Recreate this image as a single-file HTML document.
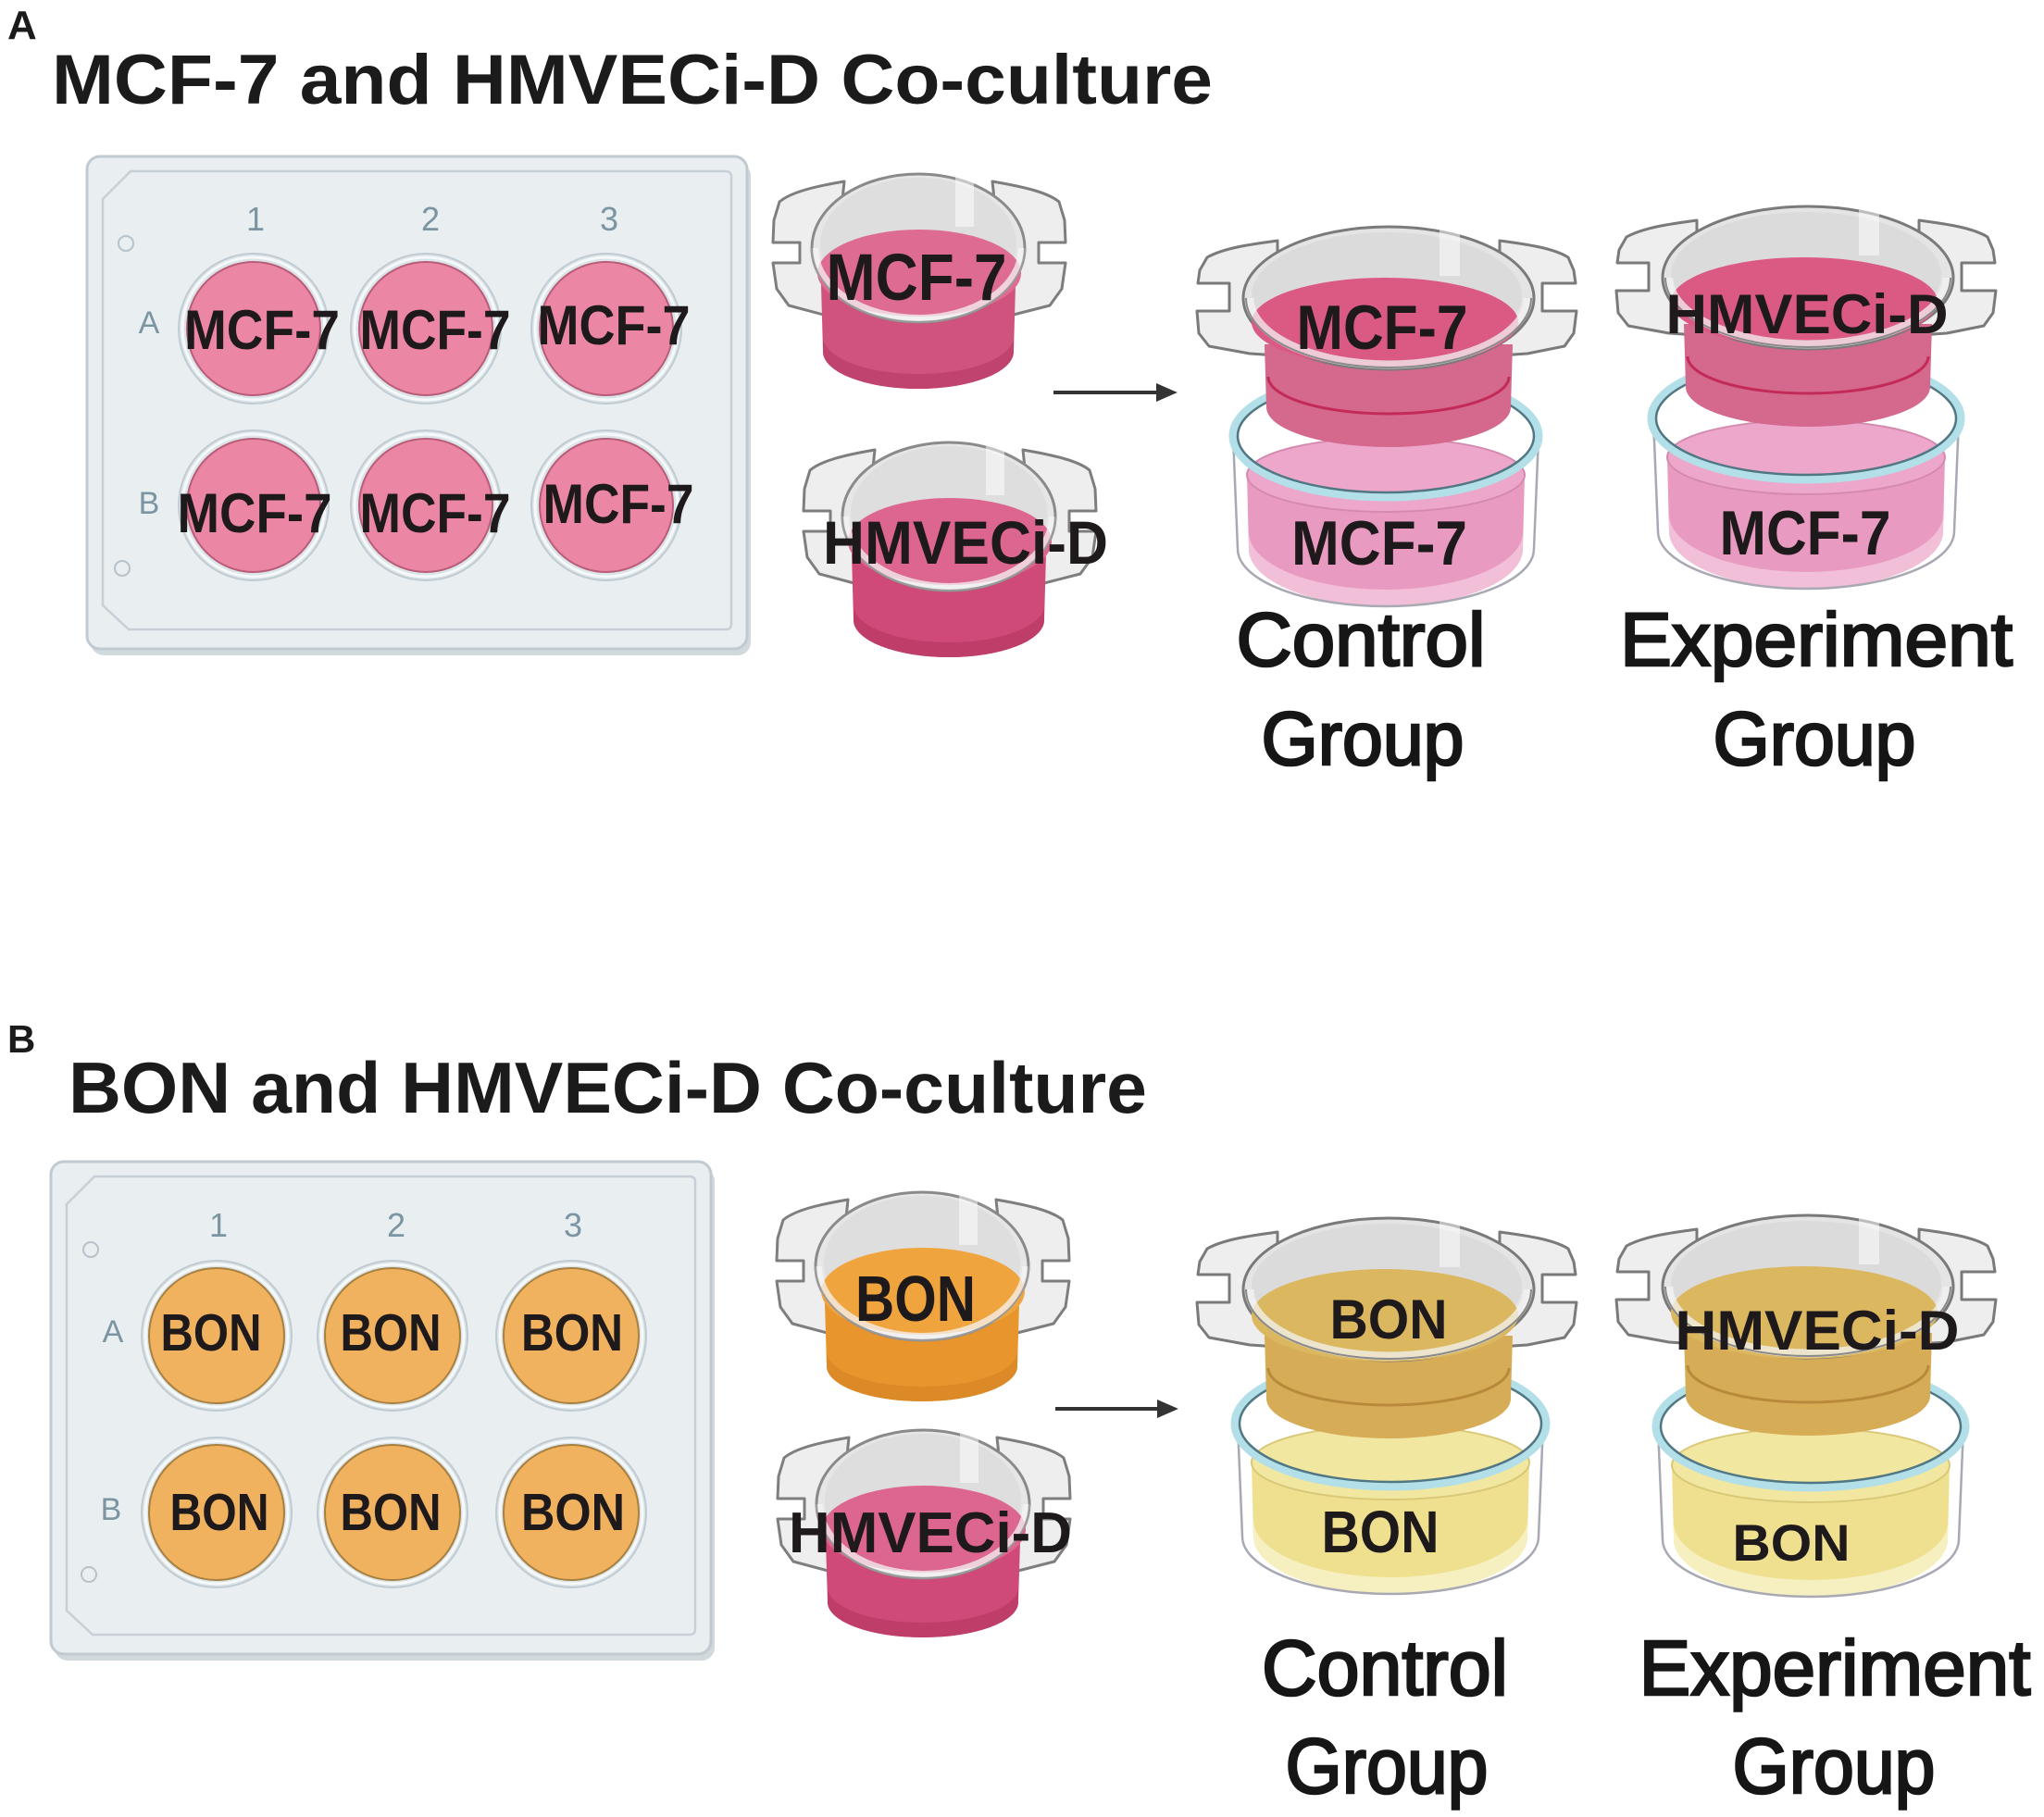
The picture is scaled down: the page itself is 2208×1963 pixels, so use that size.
<!DOCTYPE html>
<html><head><meta charset="utf-8"><style>
html,body{margin:0;padding:0;background:#fff;}
svg{display:block;}
text{font-family:"Liberation Sans",Arial,sans-serif;}
.t{font-weight:bold;fill:#1b1b1b;}
.lab{font-weight:bold;fill:#1e1a1c;text-anchor:middle;}
.grp{fill:#161616;stroke:#161616;stroke-width:2.6;paint-order:stroke;text-anchor:middle;}
.num{fill:#7b95a2;text-anchor:middle;}
</style></head><body>
<svg width="2208" height="1963" viewBox="0 0 2208 1963" xmlns="http://www.w3.org/2000/svg">
<rect width="2208" height="1963" fill="#fff"/>

<!-- ===================== SECTION A ===================== -->
<text x="8" y="42" font-size="44" class="t">A</text>
<text x="56" y="112" font-size="76" class="t" textLength="1254" lengthAdjust="spacingAndGlyphs">MCF-7 and HMVECi-D Co-culture</text>

<!-- Plate A -->
<g transform="translate(94,169)">
  <rect x="4" y="7" width="713" height="532" rx="14" fill="#d2d9dd"/>
  <rect x="0" y="0" width="713" height="532" rx="14" fill="#e9eef1" stroke="#c0cad0" stroke-width="3"/>
  <path d="M47,16 L690,16 Q696,16 696,22 L696,505 Q696,511 690,511 L45,511 L17,485 L17,46 Z" fill="none" stroke="#c6d0d6" stroke-width="2.5"/>
  <circle cx="42" cy="94" r="8" fill="none" stroke="#b5c2c9" stroke-width="2"/>
  <circle cx="38" cy="445" r="8" fill="none" stroke="#b5c2c9" stroke-width="2"/>
  <text x="182" y="80" font-size="36" class="num">1</text>
  <text x="371" y="80" font-size="36" class="num">2</text>
  <text x="564" y="80" font-size="36" class="num">3</text>
  <text x="67" y="191" font-size="34" class="num">A</text>
  <text x="67" y="386" font-size="34" class="num">B</text>
  <g fill="#dbe4e8" stroke="#c0ccd2" stroke-width="2">
    <circle cx="180" cy="186" r="81"/><circle cx="366" cy="186" r="81"/><circle cx="561" cy="186" r="81"/>
    <circle cx="180" cy="377" r="81"/><circle cx="366" cy="377" r="81"/><circle cx="561" cy="377" r="81"/>
  </g>
  <g fill="none" stroke="#f6f9fa" stroke-width="3">
    <circle cx="180" cy="186" r="77"/><circle cx="366" cy="186" r="77"/><circle cx="561" cy="186" r="77"/>
    <circle cx="180" cy="377" r="77"/><circle cx="366" cy="377" r="77"/><circle cx="561" cy="377" r="77"/>
  </g>
  <g fill="#eb86a4" stroke="#b95c78" stroke-width="2">
    <circle cx="180" cy="186" r="72"/><circle cx="366" cy="186" r="72"/><circle cx="561" cy="186" r="72"/>
    <circle cx="180" cy="377" r="72"/><circle cx="366" cy="377" r="72"/><circle cx="561" cy="377" r="72"/>
  </g>
  <g font-size="60" class="lab">
    <text x="189" y="208" textLength="168" lengthAdjust="spacingAndGlyphs">MCF-7</text>
    <text x="376" y="208" textLength="163" lengthAdjust="spacingAndGlyphs">MCF-7</text>
    <text x="569" y="203" textLength="165" lengthAdjust="spacingAndGlyphs">MCF-7</text>
    <text x="181" y="406" textLength="167" lengthAdjust="spacingAndGlyphs">MCF-7</text>
    <text x="376" y="406" textLength="163" lengthAdjust="spacingAndGlyphs">MCF-7</text>
    <text x="574" y="396" textLength="163" lengthAdjust="spacingAndGlyphs">MCF-7</text>
  </g>
</g>

<!-- Small dish A1 MCF-7 -->
<g transform="translate(992,268)">
  <path d="M-80,-72 C-115,-66 -138,-60 -150,-50 L-156,-30 L-157,-6 L-128,-6 L-128,16 L-157,16 L-153,44 L-140,62 L-95,74 Z" fill="#eeeeee" stroke="#7e7e7e" stroke-width="3" stroke-linejoin="round"/>
  <path d="M80,-72 C115,-66 140,-60 152,-50 L158,-30 L159,-6 L130,-6 L130,16 L159,16 L155,44 L142,62 L95,74 Z" fill="#eeeeee" stroke="#7e7e7e" stroke-width="3" stroke-linejoin="round"/>
  <path d="M-105,40 L-103,112 A103,40 0 0 0 103,112 L105,40 Z" fill="#d0527e"/>
  <path d="M-103,96 A103,40 0 0 0 103,96 L103,112 A103,40 0 0 1 -103,112 Z" fill="#c0426e"/>
  <ellipse rx="115" ry="80" fill="#e6e6e6" stroke="#8a8a8a" stroke-width="3"/>
  <ellipse cy="-4" rx="106" ry="72" fill="#d6d6d6" opacity=".5"/>
  <ellipse cx="1" cy="27" rx="110" ry="47" fill="#de6b92"/>
  <path d="M-112,0 A112,76 0 0 0 112,0" fill="none" stroke="#f4f4f4" stroke-width="8" opacity=".75"/>
  <path d="M-115,0 A115,80 0 0 0 115,0" fill="none" stroke="#9a9a9a" stroke-width="2"/>
  <rect x="40" y="-78" width="20" height="55" fill="#fff" opacity=".5"/>
</g>
<text x="990" y="324" font-size="71" class="lab" textLength="195" lengthAdjust="spacingAndGlyphs">MCF-7</text>

<!-- Small dish A2 HMVECi-D -->
<g transform="translate(1025,558)">
  <path d="M-80,-72 C-115,-66 -138,-60 -150,-50 L-156,-30 L-157,-6 L-128,-6 L-128,16 L-157,16 L-153,44 L-140,62 L-95,74 Z" fill="#eeeeee" stroke="#7e7e7e" stroke-width="3" stroke-linejoin="round"/>
  <path d="M80,-72 C115,-66 140,-60 152,-50 L158,-30 L159,-6 L130,-6 L130,16 L159,16 L155,44 L142,62 L95,74 Z" fill="#eeeeee" stroke="#7e7e7e" stroke-width="3" stroke-linejoin="round"/>
  <path d="M-105,40 L-103,112 A103,40 0 0 0 103,112 L105,40 Z" fill="#cf4a78"/>
  <path d="M-103,96 A103,40 0 0 0 103,96 L103,112 A103,40 0 0 1 -103,112 Z" fill="#bf3d69"/>
  <ellipse rx="115" ry="80" fill="#e6e6e6" stroke="#8a8a8a" stroke-width="3"/>
  <ellipse cy="-4" rx="106" ry="72" fill="#d6d6d6" opacity=".5"/>
  <ellipse cx="1" cy="27" rx="110" ry="47" fill="#dc6690"/>
  <path d="M-112,0 A112,76 0 0 0 112,0" fill="none" stroke="#f4f4f4" stroke-width="8" opacity=".75"/>
  <path d="M-115,0 A115,80 0 0 0 115,0" fill="none" stroke="#9a9a9a" stroke-width="2"/>
  <rect x="40" y="-78" width="20" height="55" fill="#fff" opacity=".5"/>
</g>
<text x="1043" y="609" font-size="66" class="lab" textLength="308" lengthAdjust="spacingAndGlyphs">HMVECi-D</text>

<!-- Arrow A -->
<line x1="1138" y1="424" x2="1254" y2="424" stroke="#333" stroke-width="4"/>
<polygon points="1249,414 1272,424 1249,434" fill="#333"/>

<!-- Control A: lower well -->
<g transform="translate(1497,471)">
  <path d="M-150,42 L-148,122 A148,62 0 0 0 148,122 L150,42 Z" fill="#e99ac0"/>
  <path d="M-148,104 A148,62 0 0 0 148,104 L148,122 A148,62 0 0 1 -148,122 Z" fill="#f2bfd8"/>
  <ellipse cy="42" rx="150" ry="40" fill="#eda7cb" stroke="#d48aae" stroke-width="2"/>
  <path d="M-165,0 L-160,122 A160,62 0 0 0 160,122 L165,0" fill="none" stroke="#a9a9b3" stroke-width="2.5"/>
  <ellipse rx="165" ry="66" fill="none" stroke="#b3dfe8" stroke-width="9"/>
  <ellipse rx="160" ry="61" fill="none" stroke="#507783" stroke-width="2.5"/>
</g>
<!-- Control A: insert -->
<g transform="translate(1500,322)">
  <path d="M-120,-62 C-150,-58 -178,-54 -196,-44 L-204,-30 L-206,-16 L-172,-16 L-172,14 L-207,14 L-205,38 L-194,52 L-150,60 L-120,62 Z" fill="#eeeeee" stroke="#7a7a7a" stroke-width="3" stroke-linejoin="round"/>
  <path d="M120,-62 C150,-58 178,-54 194,-44 L200,-30 L202,-16 L166,-16 L166,14 L203,14 L200,38 L190,52 L150,60 L120,62 Z" fill="#eeeeee" stroke="#7a7a7a" stroke-width="3" stroke-linejoin="round"/>
  <path d="M-134,50 L-132,118 A132,43 0 0 0 132,118 L134,50 Z" fill="#d4688d"/>
  <path d="M-130,85 A130,40 0 0 0 130,85" fill="none" stroke="#c42a58" stroke-width="3"/>
  <ellipse rx="157" ry="77" fill="#e4e4e4" stroke="#7a7a7a" stroke-width="3"/>
  <ellipse cx="-2" cy="-3" rx="146" ry="68" fill="#d6d6d6" opacity=".6"/>
  <ellipse cx="-4" cy="26" rx="144" ry="48" fill="#da5a84"/>
  <path d="M-150,0 A150,72 0 0 0 150,0" fill="none" stroke="#f3f3f3" stroke-width="9" opacity=".75"/>
  <path d="M-154,0 A154,75 0 0 0 154,0" fill="none" stroke="#8a8a8a" stroke-width="2"/>
  <rect x="55" y="-74" width="22" height="50" fill="#fff" opacity=".5"/>
</g>
<text x="1493" y="377" font-size="68" class="lab" textLength="185" lengthAdjust="spacingAndGlyphs">MCF-7</text>
<text x="1490" y="610" font-size="68" class="lab" textLength="190" lengthAdjust="spacingAndGlyphs">MCF-7</text>

<!-- Experiment A: lower well -->
<g transform="translate(1951,452)">
  <path d="M-150,42 L-148,122 A148,62 0 0 0 148,122 L150,42 Z" fill="#e99ac0"/>
  <path d="M-148,104 A148,62 0 0 0 148,104 L148,122 A148,62 0 0 1 -148,122 Z" fill="#f2bfd8"/>
  <ellipse cy="42" rx="150" ry="40" fill="#eda7cb" stroke="#d48aae" stroke-width="2"/>
  <path d="M-165,0 L-160,122 A160,62 0 0 0 160,122 L165,0" fill="none" stroke="#a9a9b3" stroke-width="2.5"/>
  <ellipse rx="167" ry="66" fill="none" stroke="#b3dfe8" stroke-width="9"/>
  <ellipse rx="162" ry="61" fill="none" stroke="#507783" stroke-width="2.5"/>
</g>
<!-- Experiment A: insert -->
<g transform="translate(1953,300)">
  <path d="M-120,-62 C-150,-58 -178,-54 -196,-44 L-204,-30 L-206,-16 L-172,-16 L-172,14 L-207,14 L-205,38 L-194,52 L-150,60 L-120,62 Z" fill="#eeeeee" stroke="#7a7a7a" stroke-width="3" stroke-linejoin="round"/>
  <path d="M120,-62 C150,-58 178,-54 194,-44 L200,-30 L202,-16 L166,-16 L166,14 L203,14 L200,38 L190,52 L150,60 L120,62 Z" fill="#eeeeee" stroke="#7a7a7a" stroke-width="3" stroke-linejoin="round"/>
  <path d="M-134,50 L-132,118 A132,43 0 0 0 132,118 L134,50 Z" fill="#d4688d"/>
  <path d="M-130,85 A130,40 0 0 0 130,85" fill="none" stroke="#c42a58" stroke-width="3"/>
  <ellipse rx="157" ry="77" fill="#e4e4e4" stroke="#7a7a7a" stroke-width="3"/>
  <ellipse cx="-2" cy="-3" rx="146" ry="68" fill="#d6d6d6" opacity=".6"/>
  <ellipse cx="-4" cy="26" rx="144" ry="48" fill="#da5a84"/>
  <path d="M-150,0 A150,72 0 0 0 150,0" fill="none" stroke="#f3f3f3" stroke-width="9" opacity=".75"/>
  <path d="M-154,0 A154,75 0 0 0 154,0" fill="none" stroke="#8a8a8a" stroke-width="2"/>
  <rect x="55" y="-74" width="22" height="50" fill="#fff" opacity=".5"/>
</g>
<text x="1952" y="360" font-size="60" class="lab" textLength="305" lengthAdjust="spacingAndGlyphs">HMVECi-D</text>
<text x="1950" y="599" font-size="68" class="lab" textLength="185" lengthAdjust="spacingAndGlyphs">MCF-7</text>

<!-- Group labels A -->
<text x="1470" y="719" font-size="82" class="grp" textLength="269" lengthAdjust="spacingAndGlyphs">Control</text>
<text x="1472" y="826" font-size="82" class="grp" textLength="219" lengthAdjust="spacingAndGlyphs">Group</text>
<text x="1962" y="719" font-size="82" class="grp" textLength="424" lengthAdjust="spacingAndGlyphs">Experiment</text>
<text x="1960" y="826" font-size="82" class="grp" textLength="219" lengthAdjust="spacingAndGlyphs">Group</text>

<!-- ===================== SECTION B ===================== -->
<text x="8" y="1137" font-size="42" class="t">B</text>
<text x="74" y="1202" font-size="78" class="t" textLength="1165" lengthAdjust="spacingAndGlyphs">BON and HMVECi-D Co-culture</text>

<!-- Plate B -->
<g transform="translate(55,1255)">
  <rect x="4" y="7" width="713" height="532" rx="14" fill="#d2d9dd"/>
  <rect x="0" y="0" width="713" height="532" rx="14" fill="#e9eef1" stroke="#c0cad0" stroke-width="3"/>
  <path d="M47,16 L690,16 Q696,16 696,22 L696,505 Q696,511 690,511 L45,511 L17,485 L17,46 Z" fill="none" stroke="#c6d0d6" stroke-width="2.5"/>
  <circle cx="43" cy="95" r="8" fill="none" stroke="#b5c2c9" stroke-width="2"/>
  <circle cx="41" cy="446" r="8" fill="none" stroke="#b5c2c9" stroke-width="2"/>
  <text x="181" y="81" font-size="36" class="num">1</text>
  <text x="373" y="81" font-size="36" class="num">2</text>
  <text x="564" y="81" font-size="36" class="num">3</text>
  <text x="67" y="195" font-size="34" class="num">A</text>
  <text x="65" y="387" font-size="34" class="num">B</text>
  <g fill="#dbe4e8" stroke="#c0ccd2" stroke-width="2">
    <circle cx="179" cy="188" r="81"/><circle cx="369" cy="188" r="81"/><circle cx="562" cy="188" r="81"/>
    <circle cx="179" cy="379" r="81"/><circle cx="369" cy="379" r="81"/><circle cx="562" cy="379" r="81"/>
  </g>
  <g fill="none" stroke="#f6f9fa" stroke-width="3">
    <circle cx="179" cy="188" r="77"/><circle cx="369" cy="188" r="77"/><circle cx="562" cy="188" r="77"/>
    <circle cx="179" cy="379" r="77"/><circle cx="369" cy="379" r="77"/><circle cx="562" cy="379" r="77"/>
  </g>
  <g fill="#f0b25f" stroke="#a8803f" stroke-width="2">
    <circle cx="179" cy="188" r="73"/><circle cx="369" cy="188" r="73"/><circle cx="562" cy="188" r="73"/>
    <circle cx="179" cy="379" r="73"/><circle cx="369" cy="379" r="73"/><circle cx="562" cy="379" r="73"/>
  </g>
  <g font-size="57" class="lab">
    <text x="173" y="204" textLength="109" lengthAdjust="spacingAndGlyphs">BON</text>
    <text x="367" y="204" textLength="109" lengthAdjust="spacingAndGlyphs">BON</text>
    <text x="563" y="204" textLength="110" lengthAdjust="spacingAndGlyphs">BON</text>
    <text x="182" y="398" textLength="107" lengthAdjust="spacingAndGlyphs">BON</text>
    <text x="367" y="398" textLength="109" lengthAdjust="spacingAndGlyphs">BON</text>
    <text x="564" y="398" textLength="112" lengthAdjust="spacingAndGlyphs">BON</text>
  </g>
</g>

<!-- Small dish B1 BON -->
<g transform="translate(996,1368)">
  <path d="M-80,-72 C-115,-66 -138,-60 -150,-50 L-156,-30 L-157,-6 L-128,-6 L-128,16 L-157,16 L-153,44 L-140,62 L-95,74 Z" fill="#eeeeee" stroke="#7e7e7e" stroke-width="3" stroke-linejoin="round"/>
  <path d="M80,-72 C115,-66 140,-60 152,-50 L158,-30 L159,-6 L130,-6 L130,16 L159,16 L155,44 L142,62 L95,74 Z" fill="#eeeeee" stroke="#7e7e7e" stroke-width="3" stroke-linejoin="round"/>
  <path d="M-105,40 L-103,108 A103,38 0 0 0 103,108 L105,40 Z" fill="#e8952e"/>
  <path d="M-103,92 A103,38 0 0 0 103,92 L103,108 A103,38 0 0 1 -103,108 Z" fill="#dc8a28"/>
  <ellipse rx="115" ry="80" fill="#e6e6e6" stroke="#8a8a8a" stroke-width="3"/>
  <ellipse cy="-4" rx="106" ry="72" fill="#d6d6d6" opacity=".5"/>
  <ellipse cx="1" cy="27" rx="110" ry="47" fill="#f0a43e"/>
  <path d="M-112,0 A112,76 0 0 0 112,0" fill="none" stroke="#f4f4f4" stroke-width="8" opacity=".75"/>
  <path d="M-115,0 A115,80 0 0 0 115,0" fill="none" stroke="#9a9a9a" stroke-width="2"/>
  <rect x="40" y="-78" width="20" height="55" fill="#fff" opacity=".5"/>
</g>
<text x="989" y="1427" font-size="70" class="lab" textLength="130" lengthAdjust="spacingAndGlyphs">BON</text>

<!-- Small dish B2 HMVECi-D -->
<g transform="translate(997,1625)">
  <path d="M-80,-72 C-115,-66 -138,-60 -150,-50 L-156,-30 L-157,-6 L-128,-6 L-128,16 L-157,16 L-153,44 L-140,62 L-95,74 Z" fill="#eeeeee" stroke="#7e7e7e" stroke-width="3" stroke-linejoin="round"/>
  <path d="M80,-72 C115,-66 140,-60 152,-50 L158,-30 L159,-6 L130,-6 L130,16 L159,16 L155,44 L142,62 L95,74 Z" fill="#eeeeee" stroke="#7e7e7e" stroke-width="3" stroke-linejoin="round"/>
  <path d="M-105,40 L-103,106 A103,38 0 0 0 103,106 L105,40 Z" fill="#cf4a78"/>
  <path d="M-103,90 A103,38 0 0 0 103,90 L103,106 A103,38 0 0 1 -103,106 Z" fill="#bf3d69"/>
  <ellipse rx="115" ry="80" fill="#e6e6e6" stroke="#8a8a8a" stroke-width="3"/>
  <ellipse cy="-4" rx="106" ry="72" fill="#d6d6d6" opacity=".5"/>
  <ellipse cx="1" cy="27" rx="110" ry="47" fill="#dc6690"/>
  <path d="M-112,0 A112,76 0 0 0 112,0" fill="none" stroke="#f4f4f4" stroke-width="8" opacity=".75"/>
  <path d="M-115,0 A115,80 0 0 0 115,0" fill="none" stroke="#9a9a9a" stroke-width="2"/>
  <rect x="40" y="-78" width="20" height="55" fill="#fff" opacity=".5"/>
</g>
<text x="1005" y="1677" font-size="62" class="lab" textLength="306" lengthAdjust="spacingAndGlyphs">HMVECi-D</text>

<!-- Arrow B -->
<line x1="1140" y1="1522" x2="1256" y2="1522" stroke="#333" stroke-width="4"/>
<polygon points="1250,1512 1273,1522 1250,1532" fill="#333"/>

<!-- Control B: lower well -->
<g transform="translate(1502,1538)">
  <path d="M-150,42 L-148,122 A148,62 0 0 0 148,122 L150,42 Z" fill="#efe08f"/>
  <path d="M-148,104 A148,62 0 0 0 148,104 L148,122 A148,62 0 0 1 -148,122 Z" fill="#f6efc0"/>
  <ellipse cy="42" rx="150" ry="40" fill="#f2e7a0" stroke="#d9c878" stroke-width="2"/>
  <path d="M-165,0 L-160,122 A160,62 0 0 0 160,122 L165,0" fill="none" stroke="#a9a9b3" stroke-width="2.5"/>
  <ellipse rx="168" ry="68" fill="none" stroke="#b3dfe8" stroke-width="9"/>
  <ellipse rx="163" ry="63" fill="none" stroke="#507783" stroke-width="2.5"/>
</g>
<!-- Control B: insert -->
<g transform="translate(1500,1393)">
  <path d="M-120,-62 C-150,-58 -178,-54 -196,-44 L-204,-30 L-206,-16 L-172,-16 L-172,14 L-207,14 L-205,38 L-194,52 L-150,60 L-120,62 Z" fill="#eeeeee" stroke="#7a7a7a" stroke-width="3" stroke-linejoin="round"/>
  <path d="M120,-62 C150,-58 178,-54 194,-44 L200,-30 L202,-16 L166,-16 L166,14 L203,14 L200,38 L190,52 L150,60 L120,62 Z" fill="#eeeeee" stroke="#7a7a7a" stroke-width="3" stroke-linejoin="round"/>
  <path d="M-134,50 L-132,118 A132,43 0 0 0 132,118 L134,50 Z" fill="#d6ac57"/>
  <path d="M-130,85 A130,40 0 0 0 130,85" fill="none" stroke="#b8893a" stroke-width="3"/>
  <ellipse rx="157" ry="77" fill="#e4e4e4" stroke="#7a7a7a" stroke-width="3"/>
  <ellipse cx="-2" cy="-3" rx="146" ry="68" fill="#d6d6d6" opacity=".6"/>
  <ellipse cx="-4" cy="28" rx="144" ry="50" fill="#dbb75f"/>
  <path d="M-150,0 A150,72 0 0 0 150,0" fill="none" stroke="#f3f3f3" stroke-width="9" opacity=".75"/>
  <path d="M-154,0 A154,75 0 0 0 154,0" fill="none" stroke="#8a8a8a" stroke-width="2"/>
  <rect x="55" y="-74" width="22" height="50" fill="#fff" opacity=".5"/>
</g>
<text x="1500" y="1446" font-size="60" class="lab" textLength="127" lengthAdjust="spacingAndGlyphs">BON</text>
<text x="1491" y="1677" font-size="64" class="lab" textLength="127" lengthAdjust="spacingAndGlyphs">BON</text>

<!-- Experiment B: lower well -->
<g transform="translate(1956,1541)">
  <path d="M-150,42 L-148,122 A148,62 0 0 0 148,122 L150,42 Z" fill="#efe08f"/>
  <path d="M-148,104 A148,62 0 0 0 148,104 L148,122 A148,62 0 0 1 -148,122 Z" fill="#f6efc0"/>
  <ellipse cy="42" rx="150" ry="40" fill="#f2e7a0" stroke="#d9c878" stroke-width="2"/>
  <path d="M-165,0 L-160,122 A160,62 0 0 0 160,122 L165,0" fill="none" stroke="#a9a9b3" stroke-width="2.5"/>
  <ellipse rx="167" ry="66" fill="none" stroke="#b3dfe8" stroke-width="9"/>
  <ellipse rx="162" ry="61" fill="none" stroke="#507783" stroke-width="2.5"/>
</g>
<!-- Experiment B: insert -->
<g transform="translate(1953,1390)">
  <path d="M-120,-62 C-150,-58 -178,-54 -196,-44 L-204,-30 L-206,-16 L-172,-16 L-172,14 L-207,14 L-205,38 L-194,52 L-150,60 L-120,62 Z" fill="#eeeeee" stroke="#7a7a7a" stroke-width="3" stroke-linejoin="round"/>
  <path d="M120,-62 C150,-58 178,-54 194,-44 L200,-30 L202,-16 L166,-16 L166,14 L203,14 L200,38 L190,52 L150,60 L120,62 Z" fill="#eeeeee" stroke="#7a7a7a" stroke-width="3" stroke-linejoin="round"/>
  <path d="M-134,50 L-132,118 A132,43 0 0 0 132,118 L134,50 Z" fill="#d6ac57"/>
  <path d="M-130,85 A130,40 0 0 0 130,85" fill="none" stroke="#b8893a" stroke-width="3"/>
  <ellipse rx="157" ry="77" fill="#e4e4e4" stroke="#7a7a7a" stroke-width="3"/>
  <ellipse cx="-2" cy="-3" rx="146" ry="68" fill="#d6d6d6" opacity=".6"/>
  <ellipse cx="-4" cy="28" rx="144" ry="50" fill="#dbb75f"/>
  <path d="M-150,0 A150,72 0 0 0 150,0" fill="none" stroke="#f3f3f3" stroke-width="9" opacity=".75"/>
  <path d="M-154,0 A154,75 0 0 0 154,0" fill="none" stroke="#8a8a8a" stroke-width="2"/>
  <rect x="55" y="-74" width="22" height="50" fill="#fff" opacity=".5"/>
</g>
<text x="1963" y="1458" font-size="60" class="lab" textLength="307" lengthAdjust="spacingAndGlyphs">HMVECi-D</text>
<text x="1935" y="1686" font-size="56" class="lab" textLength="127" lengthAdjust="spacingAndGlyphs">BON</text>

<!-- Group labels B -->
<text x="1496" y="1831" font-size="84" class="grp" textLength="266" lengthAdjust="spacingAndGlyphs">Control</text>
<text x="1498" y="1937" font-size="84" class="grp" textLength="219" lengthAdjust="spacingAndGlyphs">Group</text>
<text x="1982" y="1831" font-size="84" class="grp" textLength="423" lengthAdjust="spacingAndGlyphs">Experiment</text>
<text x="1981" y="1937" font-size="84" class="grp" textLength="219" lengthAdjust="spacingAndGlyphs">Group</text>
</svg>
</body></html>
